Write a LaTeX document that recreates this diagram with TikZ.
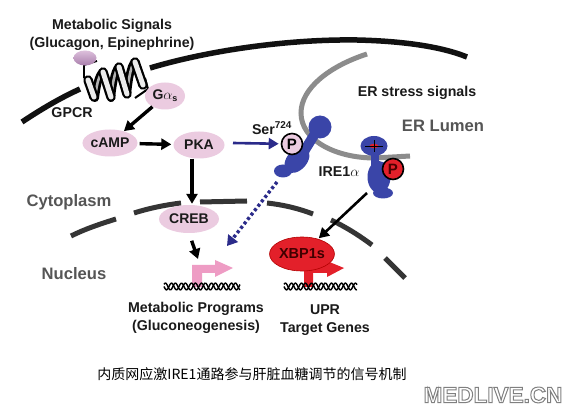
\documentclass[tikz,border=0pt]{standalone}
\usepackage{fontspec}
\setmainfont{Liberation Sans}
\newfontfamily\cjkfont{Noto Sans CJK SC}
\usetikzlibrary{arrows.meta,shapes.geometric,calc}
\definecolor{memb}{HTML}{111111}
\definecolor{ergray}{HTML}{8C8C8C}
\definecolor{labgray}{HTML}{555555}
\definecolor{pinkfill}{HTML}{EBCBE0}
\definecolor{navy}{HTML}{2B2B8A}
\definecolor{irefill}{HTML}{3A45A8}
\definecolor{redfill}{HTML}{E3202A}
\definecolor{genepink}{HTML}{EE9CC4}
\definecolor{txtdark}{HTML}{1A1A1A}
\definecolor{ligandtop}{HTML}{DDC0DC}
\definecolor{ligandlow}{HTML}{A97FAC}
\tikzset{
  lipid/.style={draw=memb,line width=5.5pt},
  envelope/.style={draw=memb!85!white,line width=5pt},
  erwall/.style={draw=ergray,line width=5pt},
  signal/.style={ellipse,fill=pinkfill,inner sep=0pt,font=\bfseries\fontsize{14}{14}\selectfont,text=txtdark},
  phospho/.style={circle,draw=black,line width=1.6pt,inner sep=0pt,minimum size=21pt,font=\bfseries\fontsize{15}{15}\selectfont},
  flow/.style={draw=black,line width=3.4pt,-{Triangle[length=10pt,width=11pt]}},
  label/.style={font=\bfseries\fontsize{14.2}{18}\selectfont,text=txtdark,align=center},
  region/.style={font=\bfseries\fontsize{16.6}{18}\selectfont,text=labgray},
  dnastrand/.style={draw=black,line width=1.4pt},
  backcoil/.style={draw=black,line width=8pt,line cap=round},
  backcore/.style={draw=gray!60,line width=2.6pt,line cap=round},
  frontcoil/.style={draw=black,line width=9.5pt,line cap=round},
  frontcore/.style={draw=white!85!gray,line width=5pt,line cap=round},
}
% one strand of the receptor coil: rear part first, front part over it
\newcommand{\coilback}[2]{%
  \draw[backcoil] #1 .. controls +(1,-8) and +(-5,3) .. #2;
  \draw[backcore] #1 .. controls +(1,-8) and +(-5,3) .. #2;
}
\newcommand{\coilfront}[2]{%
  \draw[frontcoil] #1 -- #2;
  \draw[frontcore] #1 -- #2;
}
\newcommand{\dnahelix}[2]{%
  \draw[dnastrand,domain=0:#2,samples=90,smooth] plot (#1+\x,{286.5+3.4*sin(\x*36)});
  \draw[dnastrand,domain=0:#2,samples=90,smooth] plot (#1+\x,{286.5-3.4*sin(\x*36+40)});
}
\begin{document}
\begin{tikzpicture}[x=1pt,y=-1pt]
\useasboundingbox (0,0) rectangle (574,417);
\fill[white] (0,0) rectangle (574,417);

% plasma membrane, interrupted by the receptor
\draw[lipid] (22,122) .. controls (40,110) and (60,98) .. (80,89);
\draw[lipid] (150,68) .. controls (210,50) and (290,39) .. (357,40) .. controls (400,41) and (440,46) .. (467,57);

% endoplasmic reticulum wall
\draw[erwall] (367,54) .. controls (330,66) and (301,88) .. (301,113) .. controls (301,140) and (335,158) .. (375,158) -- (410,156);

% nuclear envelope
\draw[envelope] (71,236) .. controls (85,229) and (100,224) .. (116,219);
\draw[envelope] (134,213) .. controls (150,208) and (165,205) .. (181,203);
\draw[envelope] (200,202) -- (247,201);
\draw[envelope] (267,203) .. controls (285,205) and (300,209) .. (313,214);
\draw[envelope] (331,220) .. controls (346,227) and (360,236) .. (372,245);
\draw[envelope] (385,258) -- (405,278);

% ligand and receptor
\draw[black,line width=1.8pt] (97,61) -- (84,65) -- (84,78);
\node[ellipse,inner sep=0pt,minimum width=23pt,minimum height=15pt,top color=ligandtop,bottom color=ligandlow] (ligand) at (85,58) {};
\draw[black,line width=2pt] (145,78) -- (148,89) -- (135,98);
\coilback{(95,98)}{(103,72)}
\coilback{(111,98)}{(119,67)}
\coilback{(127,94)}{(135,62)}
\coilfront{(88,80)}{(94,97)}
\coilfront{(103,72)}{(111,97)}
\coilfront{(119,67)}{(127,94)}
\coilfront{(135,62)}{(143,85)}

% signalling nodes
\node[signal,minimum width=40pt,minimum height=27pt] (gas) at (165,96) {G$\alpha$\raisebox{-2pt}{\fontsize{9}{9}\selectfont s}};
\node[signal,minimum width=51pt,minimum height=27pt] (camp) at (110,143) {cAMP};
\node[signal,minimum width=51pt,minimum height=27pt] (pka) at (199,145) {PKA};
\node[signal,minimum width=60pt,minimum height=28pt] (creb) at (189,219) {CREB};

% IRE1 at the Ser724 site
\fill[irefill] (320,127) circle (11.5);
\draw[irefill,line width=10pt] (316,132) -- (303,153);
\fill[irefill,rotate around={48:(297,160)}] (297,160) ellipse (15 and 10);
\fill[irefill] (283,171) ellipse (9 and 6.5);
\node[phospho,fill=pinkfill] (pser) at (292,144) {P};

% phosphorylated IRE1 in the ER wall
\draw[irefill,line width=8pt] (375,152) -- (375,168);
\fill[irefill] (374,146) ellipse (13.5 and 10);
\fill[irefill] (379,177) ellipse (11.5 and 16);
\fill[irefill] (383,193) ellipse (10 and 5.5);
\fill[redfill] (374,146) ellipse (4.5 and 2.2);
\draw[black,line width=0.5pt] (365,146) -- (383,146) (374,140) -- (374,152);
\node[phospho,fill=redfill,text=black!70!red] (pire) at (393,169) {P};

% promoter arrows and DNA
\fill[genepink] (192,287) -- (192,265) -- (215,265) -- (215,260) -- (233,268) -- (215,277) -- (215,273) -- (202,273) -- (202,287) -- cycle;
\fill[redfill] (304,287) -- (304,265) -- (327,265) -- (327,261) -- (344,268) -- (327,277) -- (327,273) -- (313,273) -- (313,287) -- cycle;
\dnahelix{164}{76}
\dnahelix{284}{73}
\node[signal,fill=redfill,draw=red!70!black,line width=0.6pt,minimum width=58pt,minimum height=34pt,font=\bfseries\fontsize{14.5}{15}\selectfont,text=black!75!red] (xbp) at (302,254) {XBP1s};

% free ends of connectors
\coordinate (serstart) at (233,143);
\coordinate (dotstart) at (277,182);
\coordinate (dottip) at (227,246);
\coordinate (irestart) at (367,193);
\coordinate (pinkpromoter) at (198,259);

% connectors
\draw[flow] (gas) -- (camp);
\draw[flow,shorten <=2pt,shorten >=2pt] (camp) -- (pka);
\draw[flow,shorten >=1pt] (pka.south -| 192,0) -- (creb.north -| 192,0);
\draw[flow,shorten <=8pt] (creb.south) -- (pinkpromoter);
\draw[draw=navy,line width=2.6pt,-{Triangle[length=10pt,width=11pt]},shorten >=2pt] (serstart) -- (pser);
\draw[draw=navy,line width=3.4pt,dash pattern=on 3pt off 2.6pt,-{Triangle[length=10pt,width=12pt,fill=navy]}] (dotstart) -- (dottip);
\draw[draw=black,line width=2.6pt,-{Triangle[length=10pt,width=11pt]},shorten >=1pt] (irestart) -- (xbp);

% labels
\node[label] (metasig) at (112,34.5) {Metabolic Signals\\(Glucagon, Epinephrine)};
\node[label] (gpcrlab) at (72,113) {GPCR};
\node[label] (serlab) at (272,128) {Ser\textsuperscript{724}};
\node[label] (erstress) at (417,93) {ER stress signals};
\node[region] (erlumen) at (443,126) {ER Lumen};
\node[label] (irelab) at (339,172) {IRE1$\alpha$};
\node[region] (cyto) at (69,202) {Cytoplasm};
\node[region] (nuc) at (74,274) {Nucleus};
\node[label] (metaprog) at (196,318) {Metabolic Programs\\(Gluconeogenesis)};
\node[label] (upr) at (325,320) {UPR\\Target Genes};
\node[font=\cjkfont\fontsize{14}{14}\selectfont,text=black] (caption) at (252,374) {内质网应激IRE1通路参与肝脏血糖调节的信号机制};

% embossed site name: white letters with a grey outline
\node[font=\bfseries\fontsize{22.5}{23}\selectfont,text=white] (site) at (493,395) {\special{pdf:code 2 Tr 0.5 G 1 w}MEDLIVE.CN\special{pdf:code 0 Tr}};
\end{tikzpicture}
\end{document}
